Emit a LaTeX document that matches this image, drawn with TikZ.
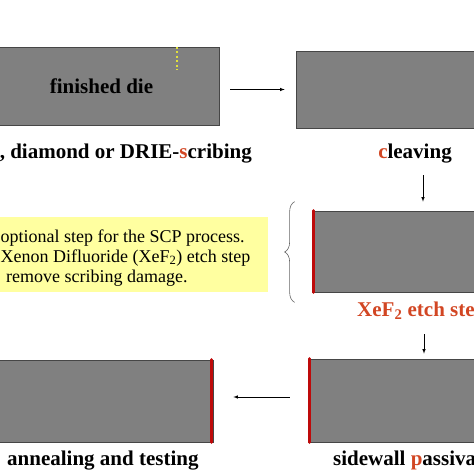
\documentclass[tikz,border=0pt]{standalone}
\usepackage{fontspec}
\setmainfont{Liberation Serif}
\usetikzlibrary{calc,decorations.pathreplacing}
\definecolor{diefill}{RGB}{128,128,128}
\definecolor{dieline}{RGB}{70,70,70}
\definecolor{sideedge}{RGB}{190,10,10}
\definecolor{hl}{RGB}{210,70,35}
\definecolor{notefill}{RGB}{255,255,160}
\definecolor{dotcol}{RGB}{225,225,60}
\tikzset{
  diebox/.style={draw=dieline, line width=0.7pt, fill=diefill, inner sep=0pt},
  lbl/.style={font=\fontsize{21}{24}\selectfont\bfseries, inner sep=0pt},
  notetxt/.style={font=\fontsize{18}{20}\selectfont, inner sep=0pt, anchor=base west},
  arr/.style={-latex, line width=0.6pt, black},
  redge/.style={draw=sideedge, line width=3pt, line cap=round},
  bracestyle/.style={draw=gray!80!black, line width=0.6pt, decorate, decoration={brace, amplitude=10pt}}
}
\begin{document}
\begin{tikzpicture}[x=1pt,y=-1pt]
\useasboundingbox (0,0) rectangle (474,474);
\clip (0,0) rectangle (474,474);
% dies
\node[diebox, minimum width=279pt, minimum height=78pt] (d1) at (79.5,86) {};
\node[diebox, minimum width=264pt, minimum height=77pt] (d2) at (428,89.5) {};
\node[diebox, minimum width=268pt, minimum height=81pt] (d3) at (446,251.5) {};
\node[diebox, minimum width=273pt, minimum height=82pt] (d4) at (76.5,401) {};
\node[diebox, minimum width=272pt, minimum height=83pt] (d5) at (444,400.5) {};
% scribe mark
\draw[dotcol, line width=2pt, dash pattern=on 2pt off 2.5pt] ([xshift=-42pt]d1.north east) -- ([xshift=-42pt,yshift=-23pt]d1.north east);
% red sidewalls
\draw[redge] ([xshift=1.5pt]d3.north west) -- ([xshift=1.5pt]d3.south west);
\draw[redge] ([xshift=-1.5pt]d4.north east) -- ([xshift=-1.5pt]d4.south east);
\draw[redge] ([xshift=1.5pt]d5.north west) -- ([xshift=1.5pt]d5.south west);
% texts
\node[lbl, anchor=base] (t1) at (101.5,93) {finished die};
\node[lbl, anchor=base east] (l1) at (252,158) {, diamond or DRIE-\textcolor{hl}{s}cribing};
\node[lbl, anchor=base] (l2) at (415,158) {\textcolor{hl}{c}leaving};
\node[lbl, anchor=base west, text=hl] (l3) at (357,316) {XeF\textsubscript{2} etch step};
\node[lbl, anchor=base west] (l4) at (7,465) {annealing and testing};
\node[lbl, anchor=base west] (l5) at (333,465) {sidewall \textcolor{hl}{p}assivation};
% note
\node[fill=notefill, minimum width=280pt, minimum height=75pt, inner sep=0pt] (nb) at (128,254.5) {};
\node[notetxt] (n1) at (0.5,242) {optional step for the SCP process.};
\node[notetxt] (n2) at (0.5,262) {Xenon Difluoride (XeF\textsubscript{2}) etch step};
\node[notetxt] (n3) at (6,282) {remove scribing damage.};
% brace
\draw[bracestyle] ([xshift=-17pt,yshift=-10pt]d3.south west) -- ([xshift=-17pt,yshift=9pt]d3.north west);
% arrows
\draw[arr] ([xshift=11pt]d1.east |- d2.west) -- ([xshift=-11pt]d2.west);
\draw[arr] ($(l2.base)+(8,17)$) -- ($(l2.base |- d3.north)+(8,-9)$);
\draw[arr] ($(l3.base west)+(67,18)$) -- ($(l3.base west |- d5.north)+(67,-5)$);
\draw[arr] ([xshift=-18pt,yshift=3.5pt]d5.west) -- ([xshift=20pt,yshift=3.5pt]d5.west -| d4.east);
\end{tikzpicture}
\end{document}
